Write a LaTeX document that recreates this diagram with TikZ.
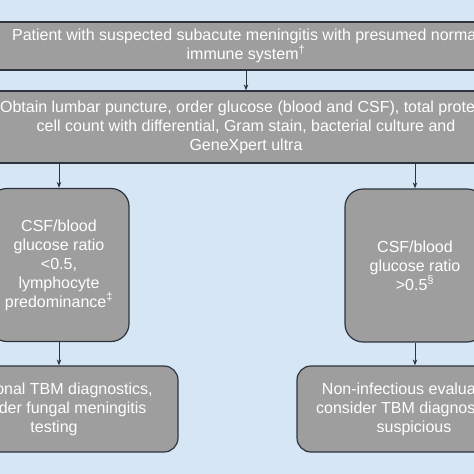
\documentclass[tikz,border=0pt]{standalone}
\usepackage{fontspec}
\setmainfont{Liberation Sans}
\usetikzlibrary{arrows.meta}
\definecolor{bgblue}{RGB}{214,230,245}
\definecolor{boxgrey}{RGB}{158,158,158}
\definecolor{edge}{RGB}{45,52,62}
\tikzset{
  flowbox/.style={draw=edge, line width=1.2pt, fill=boxgrey, text=white, align=center,
    font=\fontsize{16}{19}\selectfont, inner sep=0pt},
  squarebox/.style={flowbox},
  roundbox/.style={flowbox, rounded corners=18pt},
  roundboxsmall/.style={flowbox, rounded corners=14pt},
  flowarrow/.style={draw=edge, line width=0.9pt, -{Stealth[length=6pt,width=4.5pt]}}
}
\begin{document}
\begin{tikzpicture}[x=1pt,y=-1pt]
\useasboundingbox (0,0) rectangle (474,474);
\clip (0,0) rectangle (474,474);
\fill[bgblue] (0,0) rectangle (474,474);
\node[squarebox, minimum width=520pt, minimum height=48pt] (b1) at (246,46)
  {Patient with suspected subacute meningitis with presumed normal\\immune system\textsuperscript{\dag}};
\node[squarebox, minimum width=520pt, minimum height=72pt] (b2) at (246,127)
  {Obtain lumbar puncture, order glucose (blood and CSF), total protein,\\cell count with differential, Gram stain, bacterial culture and\\GeneXpert ultra};
\node[roundbox, minimum width=140pt, minimum height=153pt] (l3) at (59,265)
  {CSF/blood\\glucose ratio\\<0.5,\\lymphocyte\\predominance\textsuperscript{\ddag}};
\node[roundbox, minimum width=140pt, minimum height=153pt] (r3) at (415,265.5)
  {CSF/blood\\glucose ratio\\>0.5\textsuperscript{\S}};
\node[roundboxsmall, minimum width=248pt, minimum height=86pt] (l4) at (54,409)
  {Additional TBM diagnostics,\\consider fungal meningitis\\testing};
\node[roundboxsmall, minimum width=234pt, minimum height=86pt] (r4) at (414,409)
  {Non-infectious evaluation,\\consider TBM diagnostics if\\suspicious};
\draw[flowarrow] (b1) -- (b2);
\draw[flowarrow] (b2.south -| l3) -- (l3);
\draw[flowarrow] (b2.south -| r3) -- (r3);
\draw[flowarrow] (l3.south -| l3) -- (l4.north -| l3);
\draw[flowarrow] (r3) -- (r3 |- r4.north);
\end{tikzpicture}
\end{document}
